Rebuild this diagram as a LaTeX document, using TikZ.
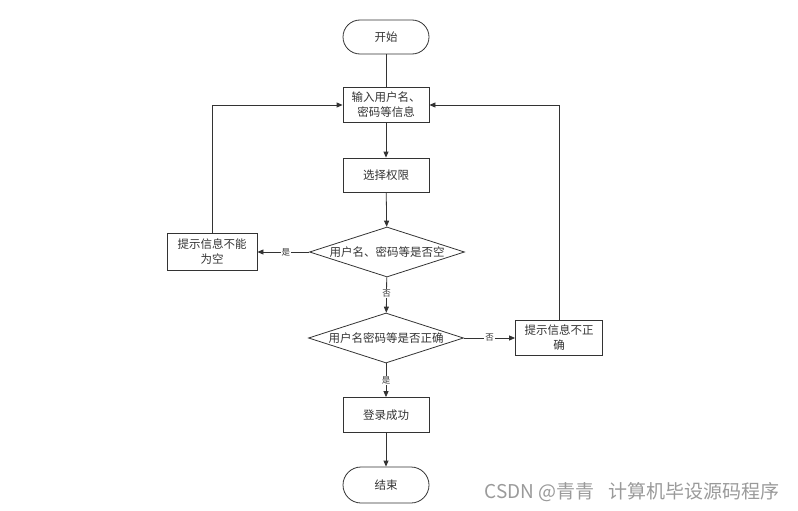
\documentclass[tikz,border=0pt]{standalone}
\usepackage{fontspec}
\setmainfont{Liberation Serif}
\newfontfamily\cjk{Noto Sans CJK SC}
\usetikzlibrary{arrows.meta,shapes.geometric}
\definecolor{ln}{HTML}{333333}
\definecolor{wm}{HTML}{9A9A9A}
\begin{document}
\begin{tikzpicture}[x=1pt,y=-1pt,
  every node/.style={font=\cjk\fontsize{11.5}{15}\selectfont, text=ln},
  term/.style={draw=ln, line width=0.8pt, minimum width=86pt, minimum height=34pt, rounded corners=17pt, inner sep=0pt},
  procbox/.style={draw=ln, line width=0.8pt, minimum width=86pt, minimum height=35pt, inner sep=1pt, align=center, text width=84pt},
  decide/.style={draw=ln, line width=0.8pt, diamond, aspect=3.1, minimum width=155pt, minimum height=50pt, inner sep=0pt},
  conn/.style={draw=ln, line width=0.8pt},
  arr/.style={conn, -{Triangle[length=6pt,width=5pt]}},
  lbl/.style={fill=white, inner sep=1pt, font=\cjk\fontsize{8.5}{9}\selectfont}
]
\useasboundingbox (0,0) rectangle (798,511);
\node[term] (start) at (386,37) {开始};
\node[procbox] (input) at (386,105) {输入用户名、\\密码等信息};
\node[procbox, minimum height=34pt] (sel) at (386,175) {选择权限};
\node[decide] (d1) at (387,252) {用户名、密码等是否空};
\node[procbox, minimum width=90pt, text width=88pt, minimum height=37pt] (empty) at (212,252) {提示信息不能\\为空};
\node[decide] (d2) at (386,338) {用户名密码等是否正确};
\node[procbox, minimum width=87pt, text width=85pt] (wrong) at (559,338) {提示信息不正\\确};
\node[procbox] (ok) at (386,415) {登录成功};
\node[term, minimum height=36pt, rounded corners=18pt] (end) at (386,485) {结束};

\draw[conn] (start) -- (input);
\draw[arr] (input) -- (sel);
\draw[arr] (sel) -- (d1);
\draw[arr] (d1) -- node[lbl, pos=0.45] {是} (empty);
\draw[arr] (d1) -- node[lbl, pos=0.45] {否} (d2);
\draw[arr] (d2) -- node[lbl, pos=0.5] {否} (wrong);
\draw[arr] (d2) -- node[lbl, pos=0.5] {是} (ok);
\draw[arr] (ok) -- (end);
\draw[arr] (empty.north) |- (input.west);
\draw[arr] (wrong.north) |- (input.east);

\node[anchor=east, text=wm, font=\cjk\fontsize{19}{20}\selectfont] (mark) at (783,492) {CSDN @青青\hspace{14pt}计算机毕设源码程序};
\end{tikzpicture}
\end{document}
